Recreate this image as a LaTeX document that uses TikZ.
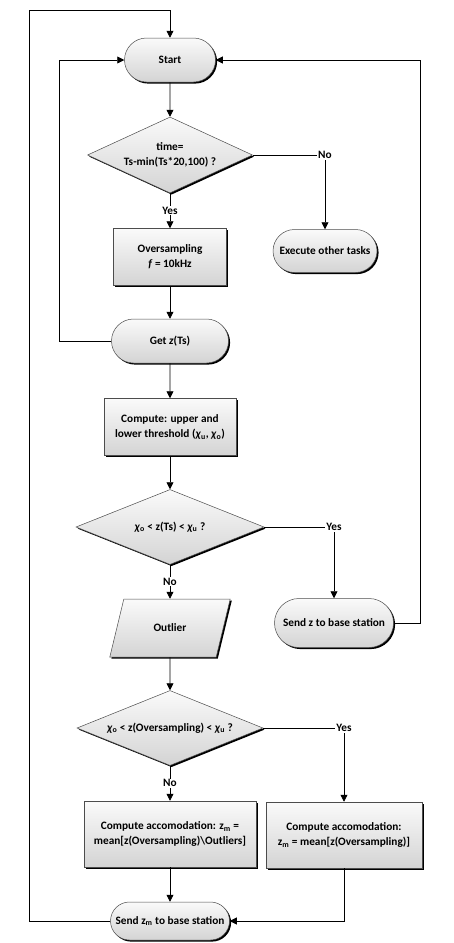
\documentclass[tikz,border=0pt]{standalone}
\usepackage{fontspec}
\setmainfont{Carlito}
\usetikzlibrary{arrows.meta,shapes.geometric,shapes.misc,shadows}

\begin{document}
\begin{tikzpicture}[x=1pt, y=-1pt, >={Triangle[length=7pt,width=7pt]},
    every node/.style={font=\fontsize{11.3}{15}\selectfont\bfseries},
    box/.style={draw=black!70, line width=0.5pt, top color=gray!4, bottom color=gray!34,
        drop shadow={shadow xshift=1.6pt, shadow yshift=-1.6pt, fill=black, opacity=1},
        align=center, inner sep=2pt},
    term/.style={box, rounded rectangle},
    proc/.style={box, rectangle},
    dec/.style={box, diamond, shape aspect=2.2, inner sep=0pt},
    io/.style={box, trapezium, trapezium left angle=65, trapezium right angle=115, trapezium stretches=true},
    lbl/.style={fill=white, inner sep=1pt},
    line/.style={line width=0.8pt}]
    \useasboundingbox (0,0) rectangle (454,943);

    % nodes
    \node[term, minimum width=95pt, minimum height=44pt] (start) at (170,60) {Start};
    \node[dec, minimum width=165pt, minimum height=76pt] (dec1) at (170,155) {time=\\Ts-min(Ts*20,100) ?};
    \node[proc, minimum width=113pt, minimum height=57pt] (over) at (170,257) {Oversampling\\\textit{f} = 10kHz};
    \node[term, minimum width=108pt, minimum height=43pt] (exec) at (325,251) {Execute other tasks};
    \node[term, minimum width=121pt, minimum height=44pt] (get) at (170,341) {Get \textit{z}(Ts)};
    \node[proc, minimum width=132pt, minimum height=57pt] (comp) at (170,427) {Compute: upper and\\lower threshold (\textit{χ}\textsubscript{u}, \textit{χ}\textsubscript{o})};
    \node[dec, minimum width=188pt, minimum height=75pt] (dec2) at (170,527) {\textit{χ}\textsubscript{o} < z(Ts) < \textit{χ}\textsubscript{u} ?};
    \node[io, minimum width=121pt, minimum height=58pt] (outl) at (170,628) {Outlier};
    \node[term, minimum width=123pt, minimum height=49pt] (sendz) at (334,623) {Send z to base station};
    \node[dec, minimum width=186pt, minimum height=75pt] (dec3) at (170,728) {\textit{χ}\textsubscript{o} < z(Oversampling) < \textit{χ}\textsubscript{u} ?};
    \node[proc, minimum width=172pt, minimum height=66pt] (acc1) at (170,834) {Compute accomodation: z\textsubscript{m} =\\mean[z(Oversampling)\textbackslash Outliers]};
    \node[proc, minimum width=156pt, minimum height=66pt] (acc2) at (344,835) {Compute accomodation:\\z\textsubscript{m} = mean[z(Oversampling)]};
    \node[term, minimum width=123pt, minimum height=38pt] (sendm) at (170,921) {Send z\textsubscript{m} to base station};
    \coordinate (topleft) at (29,10);

    % connectors
    \draw[line, ->] (start) -- (dec1);
    \draw[line, ->] (dec1.east) -| node[lbl, pos=0.5] {No} (exec);
    \draw[line, ->] (dec1) -- node[lbl, pos=0.5] {Yes} (over);
    \draw[line, ->] (over) -- (get);
    \draw[line, ->] (get.west) -- ++(-52,0) |- (start.west);
    \draw[line, ->] (get) -- (comp);
    \draw[line, ->] (comp) -- (dec2);
    \draw[line, ->] (dec2.east) -| node[lbl, pos=0.5] {Yes} (sendz);
    \draw[line, ->] (dec2) -- node[lbl, pos=0.5] {No} (outl);
    \draw[line, ->] (sendz.east) -- ++(27,0) |- (start.east);
    \draw[line, ->] (outl) -- (dec3);
    \draw[line, ->] (dec3.east) -| node[lbl, pos=0.5] {Yes} (acc2);
    \draw[line, ->] (dec3) -- node[lbl, pos=0.5] {No} (acc1);
    \draw[line, ->] (acc1) -- (sendm);
    \draw[line, ->] (acc2.south) |- (sendm.east);
    \draw[line, ->] (sendm.west) -| (topleft) -| (start.north);
\end{tikzpicture}
\end{document}
